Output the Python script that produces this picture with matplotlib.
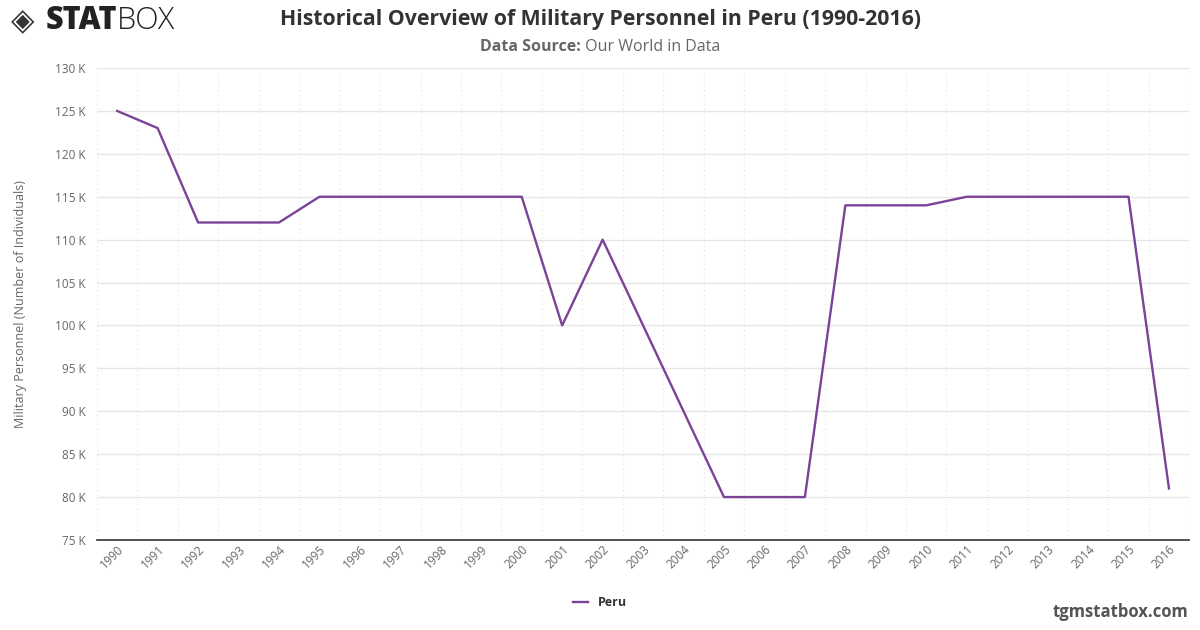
# -*- coding: utf-8 -*-
"""
Military personnel in Peru, 1990-2016
"""

import matplotlib
matplotlib.use("Agg")
import matplotlib.pyplot as plt
import matplotlib.transforms as mtransforms
import numpy as np

matplotlib.rcParams['font.family'] = ['Open Sans', 'DejaVu Sans']

# data (thousands of individuals)
years = list(range(1990, 2017))
personnel = [125, 123, 112, 112, 112, 115, 115, 115, 115, 115, 115,
             100, 110, 100, 90, 80, 80, 80, 114, 114, 114, 115,
             115, 115, 115, 115, 81]
yticks = [75, 80, 85, 90, 95, 100, 105, 110, 115, 120, 125, 130]

lineColour = "#7b4397"
gridColour = "#e6e6e6"
textColour = "#666666"

fig = plt.figure(figsize=(12, 6.3), dpi=100)
ax = fig.add_axes([0.0808, 0.1429, 0.9102, 0.7491])

x = np.arange(len(years))
ax.plot(x, personnel, color=lineColour, lw=1.7, label="Peru")

ax.set_xlim(-0.5, len(years) - 0.5)
ax.set_ylim(75, 130)

# horizontal grid
ax.set_yticks(yticks)
ax.set_yticklabels(["{} K".format(v) for v in yticks])
for v in yticks[1:]:
    ax.axhline(v, color=gridColour, lw=1, zorder=0)

# dotted vertical lines between categories
for b in np.arange(-0.5, len(years), 1.0):
    ax.axvline(b, color="#e3e3e3", lw=0.8, ls=(0, (1, 3)), zorder=0)

ax.set_xticks(x)
ax.set_xticklabels([str(y) for y in years], rotation=45, ha='right',
                   va='top', rotation_mode='anchor')
offset = mtransforms.ScaledTranslation(0.1, -0.02, fig.dpi_scale_trans)
for lab in ax.get_xticklabels():
    lab.set_transform(lab.get_transform() + offset)

ax.tick_params(axis='x', length=0, labelsize=8.5, colors=textColour, pad=2)
ax.tick_params(axis='y', length=0, labelsize=8.5, colors=textColour, pad=8)

for side in ['top', 'right', 'left']:
    ax.spines[side].set_visible(False)
ax.spines['bottom'].set_color("#333333")
ax.spines['bottom'].set_linewidth(1.2)

ax.set_ylabel("Military Personnel (Number of Individuals)", fontsize=9,
              color=textColour, labelpad=12)
ax.yaxis.set_label_coords(-0.064, 0.5)

renderer = fig.canvas.get_renderer()

# titles
fig.text(0.5, 0.969, "Historical Overview of Military Personnel in Peru (1990-2016)",
         ha='center', va='center', fontsize=15.3, fontweight='bold', color="#333333")

sub1 = fig.text(0, 0.926, "Data Source:", ha='left', va='center', fontsize=11.5,
                fontweight='bold', color=textColour)
sub2 = fig.text(0, 0.926, " Our World in Data", ha='left', va='center', fontsize=11.5,
                color=textColour)
w1 = sub1.get_window_extent(renderer).width / 1200
w2 = sub2.get_window_extent(renderer).width / 1200
start = 0.5 - (w1 + w2) / 2
sub1.set_x(start)
sub2.set_x(start + w1)

# logo
fig.text(0.009, 0.966, "\u25c8", ha='left', va='center', fontsize=22,
         color="#333333", family=['DejaVu Sans'])
stat = fig.text(0.038, 0.966, "STAT", ha='left', va='center', fontsize=22,
                fontweight='heavy', color="#222222")
ws = stat.get_window_extent(renderer).width / 1200
fig.text(0.038 + ws, 0.966, "BOX", ha='left', va='center', fontsize=22,
         color="#222222", fontweight='light')

# footer
fig.text(0.99, 0.015, "tgmstatbox.com", ha='right', va='bottom', fontsize=12,
         fontweight='bold', color="#555555")

leg = ax.legend(loc='center', frameon=False, fontsize=9, handlelength=1.2)
leg.get_texts()[0].set_fontweight('bold')
leg.get_texts()[0].set_color("#333333")
leg.set_bbox_to_anchor((0.5, 0.043), transform=fig.transFigure)

fig.savefig("out.png", dpi=100)
